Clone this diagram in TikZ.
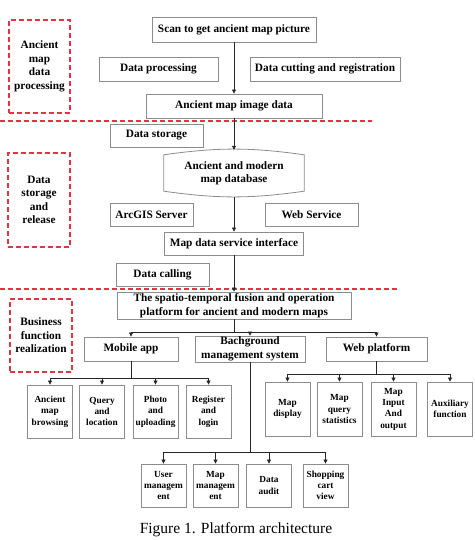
\documentclass[tikz,border=0pt]{standalone}
\usepackage{fontspec}
\setmainfont{Liberation Serif}
\usetikzlibrary{arrows.meta}
\definecolor{sepred}{RGB}{226,52,66}
\tikzset{
	box/.style={draw=black!45, line width=0.8pt, font=\bfseries\fontsize{11.3}{13.5}\selectfont, align=center, inner sep=1pt},
	leaf/.style={draw=black!45, line width=0.8pt, font=\bfseries\fontsize{9.3}{11.3}\selectfont, align=center, inner sep=0pt, minimum width=45pt},
	tag/.style={font=\bfseries\fontsize{11.3}{13.5}\selectfont, align=center, inner sep=0pt},
	layer/.style={draw=sepred, line width=1.2pt, dash pattern=on 5pt off 3pt},
	link/.style={draw=black!85, line width=0.7pt},
	flow/.style={link, -{Triangle[length=4pt,width=4pt]}}
}

\begin{document}
\begin{tikzpicture}[x=1pt, y=-1pt]
			%%%%% START %%%%%
			\useasboundingbox (0,0) rectangle (474,540);
			
			% layer frames and separators
			\node[tag, layer, minimum width=61pt, minimum height=93pt] (tagproc) at (39.5,66.5) {Ancient\\map\\data\\processing};
			\node[tag, layer, minimum width=62pt, minimum height=94pt] (tagstore) at (39,200) {Data\\storage\\and\\release};
			\node[tag, layer, minimum width=62pt, minimum height=73pt] (tagbiz) at (41,335.5) {Business\\function\\realization};
			\draw[layer] (0,121) -- (372,121);
			\draw[layer] (0,289) -- (398,289);
			
			% ancient map data processing
			\node[box, minimum width=164pt, minimum height=25pt] (scan) at (234,29.5) {Scan to get ancient map picture};
			\node[box, minimum width=119pt, minimum height=24pt] (proc) at (158.5,69) {Data processing};
			\node[box, minimum width=150pt, minimum height=24pt] (cut) at (325,69) {Data cutting and registration};
			\node[box, minimum width=176pt, minimum height=24pt] (imgdata) at (234,106) {Ancient map image data};
			
			% data storage and release
			\node[box, minimum width=93pt, minimum height=23pt] (storage) at (156.5,135.5) {Data storage};
			\node[tag, minimum width=140pt, minimum height=47pt] (db) at (234,173.5) {Ancient and modern\\map database};
			\draw[draw=black!45, line width=0.8pt] ([yshift=-5pt]db.north west) to[bend left=8] ([yshift=-5pt]db.north east)
				-- ([yshift=6pt]db.south east) to[bend left=8] ([yshift=6pt]db.south west) -- cycle;
			\node[box, minimum width=83pt, minimum height=23pt] (arcgis) at (151.5,214.5) {ArcGIS Server};
			\node[box, minimum width=93pt, minimum height=23pt] (websrv) at (311.5,214.5) {Web Service};
			\node[box, minimum width=139pt, minimum height=23pt] (iface) at (234,243.5) {Map data service interface};
			\node[box, minimum width=93pt, minimum height=23pt] (calling) at (162.5,274.5) {Data calling};
			
			% business function realization
			\node[box, minimum width=234pt, minimum height=27pt] (platform) at (234,305.5) {The spatio-temporal fusion and operation\\platform for ancient and modern maps};
			\node[box, minimum width=94pt, minimum height=24pt] (mobile) at (131,349) {Mobile app};
			\node[box, minimum width=110pt, minimum height=24pt] (backg) at (250,349) {Bachground\\management system};
			\node[box, minimum width=101pt, minimum height=24pt] (webp) at (376.5,349) {Web platform};
			
			\draw[flow] (scan) -- (imgdata);
			\draw[flow] (imgdata) -- (db);
			\draw[flow] (db) -- (iface);
			\draw[flow] (iface) -- (platform);
			
			\coordinate (forkplat) at (234,332);
			\draw[link] (platform) -- (forkplat);
			\foreach \n in {mobile, backg, webp}
				\draw[flow] (forkplat) -| (\n.north);
			
			% mobile app functions
			\node[leaf, minimum height=53pt] (browse) at (50,411.5) {Ancient\\map\\browsing};
			\node[leaf, minimum height=53pt] (query) at (102,411.5) {Query\\and\\location};
			\node[leaf, minimum height=53pt] (photo) at (155.5,411.5) {Photo\\and\\uploading};
			\node[leaf, minimum height=53pt] (login) at (208.5,411.5) {Register\\and\\login};
			
			\coordinate (forkmob) at (131,378);
			\draw[link] (mobile) -- (forkmob);
			\foreach \n in {browse, query, photo, login}
				\draw[flow] (forkmob) -| (\n.north);
			
			% web platform functions
			\node[leaf, minimum height=54pt] (display) at (287.5,409) {Map\\display};
			\node[leaf, minimum height=54pt] (stats) at (339.5,409) {Map\\query\\statistics};
			\node[leaf, minimum height=54pt] (inout) at (393.5,409) {Map\\Input\\And\\output};
			\node[leaf, minimum height=54pt] (aux) at (450,409) {Auxiliary\\function};
			
			\coordinate (forkweb) at (376.5,374);
			\draw[link] (webp) -- (forkweb);
			\foreach \n in {display, stats, inout, aux}
				\draw[flow] (forkweb) -| (\n.north);
			
			% background management functions
			\node[leaf, minimum height=43pt] (users) at (163.5,485.5) {User\\managem\\ent};
			\node[leaf, minimum height=43pt] (maps) at (215.5,485.5) {Map\\managem\\ent};
			\node[leaf, minimum height=43pt] (audit) at (269,485.5) {Data\\audit};
			\node[leaf, minimum height=43pt] (cart) at (325.5,485.5) {Shopping\\cart\\view};
			
			\coordinate (forkback) at (250,452);
			\draw[link] (backg) -- (forkback);
			\foreach \n in {users, maps, audit, cart}
				\draw[flow] (forkback) -| (\n.north);
			
			\node[font=\fontsize{15.5}{18}\selectfont] (caption) at (236,530) {Figure 1. Platform architecture};
			%%%%% END %%%%%
\end{tikzpicture}
\end{document}
